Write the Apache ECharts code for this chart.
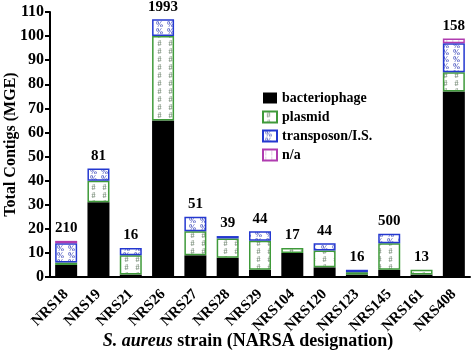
<!DOCTYPE html>
<html>
<head>
<meta charset="utf-8">
<script src="https://cdn.jsdelivr.net/npm/echarts@6/dist/echarts.min.js"></script>
<style>html,body{margin:0;padding:0;background:#fff}#c{width:474px;height:357px}</style>
</head>
<body>
<div id="c"></div>
<script>
const strains = ['NRS18','NRS19','NRS21','NRS26','NRS27','NRS28','NRS29','NRS104','NRS120','NRS123','NRS145','NRS161','NRS408'];
const bacteriophage = [5, 31, 1, 65, 9, 8, 3, 10, 4, 1, 3, 1, 77];
const plasmid       = [1, 9, 8, 35, 10, 8, 12, 2, 7, 1, 11, 2, 8];
const transposon    = [8, 5, 3, 7, 6, 1, 4, 0, 3, 1, 4, 0, 12];
const na            = [1, 0, 0, 0, 0, 0, 0, 0, 0, 0, 0, 0, 2];
const mgeCounts     = [210, 81, 16, 1993, 51, 39, 44, 17, 44, 16, 500, 13, 158];
const yTicks = {min: 0, max: 110, interval: 10};

const FONT = '"Liberation Serif", "Times New Roman", serif';

function makePattern(markColor, glyph, fontSize, w, h) {
  const cv = document.createElement('canvas');
  cv.width = w; cv.height = h;
  const ctx = cv.getContext('2d');
  ctx.fillStyle = '#ffffff';
  ctx.fillRect(0, 0, w, h);
  ctx.fillStyle = markColor;
  ctx.font = 'bold ' + fontSize + 'px ' + FONT;
  ctx.textAlign = 'center';
  ctx.textBaseline = 'middle';
  ctx.fillText(glyph, w / 2, h / 2);
  return {image: cv, repeat: 'repeat'};
}
const nz = arr => arr.map(v => (v === 0 ? '-' : v));

const chart = echarts.init(document.getElementById('c'));
const labelFmt = p => String(mgeCounts[p.dataIndex]);

chart.setOption({
  animation: false,
  backgroundColor: '#ffffff',
  grid: {left: 50, right: 4, top: 12, bottom: 80, containLabel: false, outerBoundsMode: 'none'},
  legend: {
    data: ['bacteriophage', 'plasmid', 'transposon/I.S.', 'n/a'],
    orient: 'vertical', left: 262, top: 91, padding: 0,
    itemWidth: 14, itemHeight: 11, itemGap: 5,
    icon: 'rect',
    textStyle: {fontFamily: FONT, fontWeight: 'bold', fontSize: 14, lineHeight: 14, color: '#000'}
  },
  xAxis: {
    type: 'category', data: strains,
    axisLine: {lineStyle: {color: '#000', width: 2}},
    axisTick: {alignWithLabel: true, length: 6, lineStyle: {color: '#000', width: 2}},
    axisLabel: {rotate: 45, fontFamily: FONT, fontWeight: 'bold', fontSize: 15, color: '#000', margin: 15, interval: 0},
    name: '{i|S. aureus} strain (NARSA designation)',
    nameLocation: 'middle', nameGap: 55, nameMoveOverlap: false,
    nameTextStyle: {
      fontFamily: FONT, fontWeight: 'bold', fontSize: 18, color: '#000', padding: [0, 24, 0, 0],
      rich: {i: {fontFamily: FONT, fontWeight: 'bold', fontStyle: 'italic', fontSize: 18, color: '#000'}}
    }
  },
  yAxis: {
    type: 'value', min: yTicks.min, max: yTicks.max, interval: yTicks.interval,
    splitLine: {show: false},
    axisLine: {show: true, lineStyle: {color: '#000', width: 2}},
    axisTick: {show: true, length: 5, lineStyle: {color: '#000', width: 2}},
    axisLabel: {fontFamily: FONT, fontWeight: 'bold', fontSize: 16, color: '#000', margin: 6},
    name: 'Total Contigs (MGE)', nameLocation: 'middle', nameGap: 31, nameMoveOverlap: false,
    nameTextStyle: {fontFamily: FONT, fontWeight: 'bold', fontSize: 16, color: '#000'}
  },
  series: [
    {name: 'bacteriophage', type: 'bar', stack: 'a', barWidth: 22, data: nz(bacteriophage),
     itemStyle: {color: '#000000'}},
    {name: 'plasmid', type: 'bar', stack: 'a', barWidth: 22, data: nz(plasmid),
     itemStyle: {color: makePattern('#7f927f', '#', 8, 11, 8), borderColor: '#3f9a3a', borderWidth: 1.5}},
    {name: 'transposon/I.S.', type: 'bar', stack: 'a', barWidth: 22, data: nz(transposon),
     itemStyle: {color: makePattern('#4a56c0', '%', 8, 11, 7), borderColor: '#2438d0', borderWidth: 1.5}},
    {name: 'n/a', type: 'bar', stack: 'a', barWidth: 22, data: nz(na),
     itemStyle: {color: makePattern('#c080c0', '|', 6, 6, 6), borderColor: '#b03cb0', borderWidth: 1.5}},
    {name: 'total', type: 'bar', stack: 'a', barWidth: 22, data: strains.map(() => 0),
     itemStyle: {color: 'transparent'},
     label: {show: true, position: 'top', distance: 5, formatter: labelFmt,
             fontFamily: FONT, fontWeight: 'bold', fontSize: 15, color: '#000'}}
  ]
});
</script>
</body>
</html>
